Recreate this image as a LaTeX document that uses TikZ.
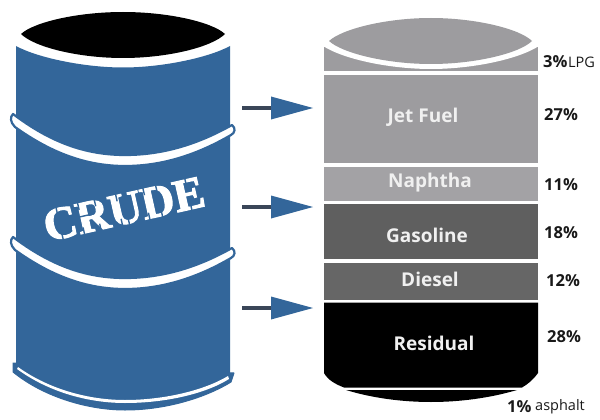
\documentclass[tikz,border=0pt]{standalone}
\usepackage{fontspec}
\setmainfont{Open Sans}[BoldFont={Open Sans Bold}]
\newfontfamily\labelbold{Open Sans Bold}
\newfontfamily\pctbold{Open Sans Bold}
\newfontfamily\stencilfont{Liberation Serif Bold}[FakeBold=2.2]
\usetikzlibrary{arrows.meta}
\definecolor{drumblue}{HTML}{33669A}
\definecolor{lightgray}{HTML}{9D9C9F}
\definecolor{naphgray}{HTML}{A3A2A5}
\definecolor{gasgray}{HTML}{5F5F5F}
\definecolor{dieselgray}{HTML}{666666}
\definecolor{shaftdark}{HTML}{3A4658}
\tikzset{
  cut/.style={fill=white,draw=none},
  band/.style={fill=white,draw=drumblue,line width=2.2pt,line join=round},
  feed/.style={draw=shaftdark,line width=3.6pt,-{Triangle[length=42pt,width=23pt,fill=drumblue,line width=0pt]}},
  fuel/.style={text=white!94!black,font=\labelbold\fontsize{19}{19}\selectfont,inner sep=0pt},
  pct/.style={text=black!90,font=\pctbold\fontsize{16.5}{17}\selectfont,inner sep=0pt,anchor=base west},
  small/.style={text=black!90,font=\fontsize{14.5}{15}\selectfont,inner sep=0pt,anchor=base west},
  stencilcut/.style={draw=drumblue,line width=1.4pt}
}
\begin{document}
\begin{tikzpicture}[x=1pt,y=-1pt]
\useasboundingbox (0,0) rectangle (600,420);
% ---------- left drum
\path[fill=drumblue,draw=drumblue,line width=1pt,line join=round]
  (13,363) -- (13,372) .. controls (45,398) and (90,410) .. (125,410)
  .. controls (165,410) and (205,398) .. (231,382) -- (234,373) -- cycle;
\path[fill=drumblue] (16,46) .. controls (38,58) and (85,67.5) .. (123,67.5)
  .. controls (161,67.5) and (208,58) .. (230,46) -- (230,376) -- (16,372) -- cycle;
\path[cut] (18,367) .. controls (50,390) and (90,400) .. (125,400)
  .. controls (165,400) and (205,390) .. (228,376) -- (229,379)
  .. controls (205,394) and (165,403) .. (125,403)
  .. controls (90,403) and (50,393) .. (17,369) -- cycle;
\path[fill=black] (21,34) .. controls (34,22) and (78,12) .. (123,12)
  .. controls (168,12) and (212,22) .. (225,34)
  .. controls (212,47) and (168,58) .. (123,58)
  .. controls (78,58) and (34,47) .. (21,34) -- cycle;
\foreach \d in {0,123}{
\begin{scope}[yshift=-\d pt]
\path[band] (13,114) .. controls (50,142) and (85,155) .. (125,155)
  .. controls (165,155) and (200,143) .. (232,125)
  .. controls (236,128) and (235,133) .. (231,135)
  .. controls (200,153) and (165,166) .. (125,166)
  .. controls (85,166) and (50,152) .. (15,127)
  .. controls (10,122) and (10,117) .. (13,114) -- cycle;
\end{scope}}
\node[rotate=12.7,inner sep=0pt,text=white,font=\stencilfont\fontsize{46}{46}\selectfont] (crude) at (124,209) {CRUDE};
\begin{scope}[shift={(crude.center)},rotate=12.7]
  \foreach \cx in {-66,-44,-27,-5,2,23,36,50,66}{
    \draw[stencilcut] (\cx,-17) -- (\cx,-9);
    \draw[stencilcut] (\cx,9) -- (\cx,17);
  }
  \draw[stencilcut] (-46,-2) -- (-30,-2);
\end{scope}
% ---------- arrows
\coordinate (a1) at (242,108); \coordinate (b1) at (313,108);
\coordinate (a2) at (242,207); \coordinate (b2) at (313,207);
\coordinate (a3) at (242,308); \coordinate (b3) at (313,308);
\draw[feed] (a1) -- (b1);
\draw[feed] (a2) -- (b2);
\draw[feed] (a3) -- (b3);
% ---------- right drum
\path[fill=lightgray] (324,47) rectangle (538,71);
\path[cut] (323,46) .. controls (345,60) and (392,69) .. (431,69)
  .. controls (470,69) and (517,60) .. (539,46) -- (539,20) -- (323,20) -- cycle;
\path[fill=lightgray] (329,41) .. controls (342,29) and (386,18) .. (431,18)
  .. controls (476,18) and (520,29) .. (532,41)
  .. controls (520,53) and (476,64) .. (431,64)
  .. controls (386,64) and (342,53) .. (329,41) -- cycle;
\path[fill=lightgray] (324,75) rectangle (538,163);
\path[fill=naphgray] (324,166.5) rectangle (538,201);
\path[fill=gasgray] (324,204) rectangle (538,259);
\path[fill=dieselgray] (324,263) rectangle (538,300);
\path[fill=black] (324,302.5) -- (538,302.5) -- (538,373)
  .. controls (533,380) and (528,384) .. (522,387.5) -- (344,387.5)
  .. controls (335,384) and (328,380) .. (324,373) -- cycle;
\path[fill=black] (346,390) -- (517,390) .. controls (490,398) and (460,402) .. (431,402)
  .. controls (402,402) and (372,398) .. (346,390) -- cycle;
% ---------- labels
\node[fuel] (jet) at (423,117) {Jet Fuel};
\node[fuel] (nap) at (430,183) {Naphtha};
\node[fuel] (gas) at (427,235) {Gasoline};
\node[fuel] (die) at (430,279) {Diesel};
\node[fuel] (res) at (434,343) {Residual};
\node[pct] (p3) at (543,67) {3\%};
\node[small] (lpg) at (568,67) {LPG};
\node[pct] (p27) at (544,121) {27\%};
\node[pct] (p11) at (544,190) {11\%};
\node[pct] (p18) at (544,238) {18\%};
\node[pct] (p12) at (546,286) {12\%};
\node[pct] (p28) at (547,342) {28\%};
\node[pct] (p1) at (507,412) {1\%};
\node[small] (asp) at (535,410) {asphalt};
\end{tikzpicture}
\end{document}
